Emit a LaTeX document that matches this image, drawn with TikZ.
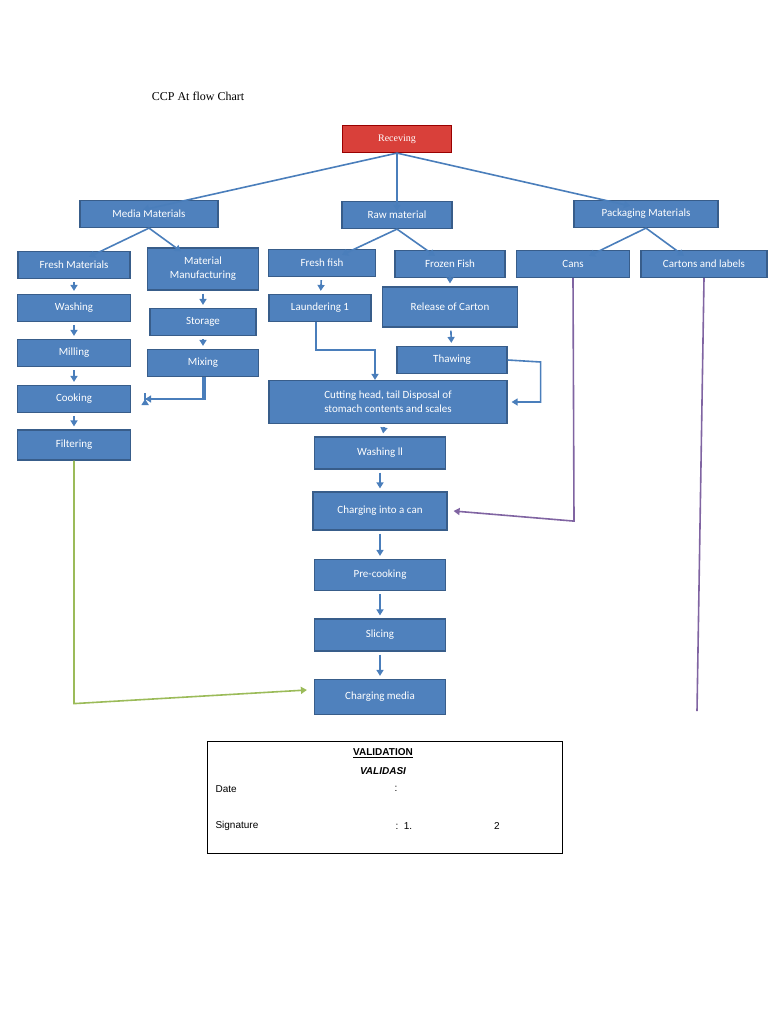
\documentclass[tikz,border=0pt]{standalone}
\usepackage{fontspec}
\setmainfont{Carlito}
\newfontfamily\arialf{Liberation Sans}
\newfontfamily\timesf{Liberation Serif}
\usetikzlibrary{arrows.meta, positioning, calc}
\definecolor{boxblue}{HTML}{4F81BD}
\definecolor{boxedge}{HTML}{385D8A}
\definecolor{arrblue}{HTML}{4A7EBB}
\definecolor{recred}{HTML}{D9403A}
\definecolor{purp}{HTML}{8064A2}
\definecolor{grn}{HTML}{9BBB59}
\begin{document}
\begin{tikzpicture}[
    x=1pt, y=-1pt,
    >={Triangle[length=6pt,width=7pt]},
    box/.style={rectangle, draw=boxedge, fill=boxblue, line width=1.2pt, text=white, align=center,
      font=\fontsize{11}{14}\selectfont, inner sep=2pt, minimum height=27pt},
    flow/.style={->, draw=arrblue, line width=1.6pt},
    link/.style={line width=1.6pt}
  ]
    \useasboundingbox (0,0) rectangle (768,1024);
    \node[font=\timesf\fontsize{12}{14}\selectfont] (title) at (198,96) {CCP At flow Chart};
    % top level
    \node[box, fill=recred, draw=red!60!black, text=white, font=\timesf\fontsize{10}{12}\selectfont, minimum width=109pt] (rec) at (397,139) {Receving};
    \node[box, minimum width=138pt] (media) at (149,214) {Media Materials};
    \node[box, minimum width=110pt] (raw) at (397,215) {Raw material};
    \node[box, minimum width=144pt] (pack) at (646,214) {Packaging Materials};
    % second level
    \node[box, minimum width=112pt] (fresh) at (74,265) {Fresh Materials};
    \node[box, minimum width=111pt, minimum height=42pt] (manuf) at (203,269) {Material\\Manufacturing};
    \node[box, minimum width=107pt] (fish) at (322,263) {Fresh fish};
    \node[box, minimum width=110pt] (frozen) at (450,264) {Frozen Fish};
    \node[box, minimum width=113pt] (cans) at (573,264) {Cans};
    \node[box, minimum width=126pt] (carton) at (704,264) {Cartons and labels};
    % media chain
    \node[box, minimum width=113pt] (wash) at (74,308) {Washing};
    \node[box, minimum width=113pt] (mill) at (74,353) {Milling};
    \node[box, minimum width=113pt] (cook) at (74,399) {Cooking};
    \node[box, minimum width=113pt, minimum height=30pt] (filter) at (74,445) {Filtering};
    \node[box, minimum width=106pt] (store) at (203,322) {Storage};
    \node[box, minimum width=111pt] (mix) at (203,363) {Mixing};
    % fish chain
    \node[box, minimum width=102pt] (laund) at (320,308) {Laundering 1};
    \node[box, minimum width=135pt, minimum height=40pt] (release) at (450,307) {Release of Carton};
    \node[box, minimum width=110pt] (thaw) at (452,360) {Thawing};
    \node[box, minimum width=238pt, minimum height=43pt] (cut) at (388,402) {Cutting head, tail Disposal of\\stomach contents and scales};
    \node[box, minimum width=131pt, minimum height=32pt] (wash2) at (380,453) {Washing ll};
    \node[box, minimum width=134pt, minimum height=38pt] (charge) at (380,511) {Charging into a can};
    \node[box, minimum width=131pt, minimum height=31pt] (pre) at (380,575) {Pre-cooking};
    \node[box, minimum width=131pt, minimum height=32pt] (slice) at (380,635) {Slicing};
    \node[box, minimum width=131pt, minimum height=35pt] (cmedia) at (380,697) {Charging media};
    % connectors
    \draw[flow] (rec.south) -- ([xshift=-6pt,yshift=-10pt]media.north);
    \draw[flow] (rec.south) -- ([yshift=-10pt]raw.north);
    \draw[flow] (rec.south) -- ([xshift=-16pt,yshift=-6pt]pack.north);
    \draw[flow] (media.south) -- ([xshift=15pt,yshift=-6pt]fresh.north);
    \draw[flow] (media.south) -- ([xshift=-22pt,yshift=-4pt]manuf.north);
    \draw[flow] (raw.south) -- ([xshift=20pt,yshift=-6pt]fish.north);
    \draw[flow] (raw.south) -- ([xshift=-15pt,yshift=-6pt]frozen.north);
    \draw[flow] (pack.south) -- ([xshift=16pt,yshift=-6pt]cans.north);
    \draw[flow] (pack.south) -- ([xshift=-20pt,yshift=-6pt]carton.north);
    \foreach \a/\b in {fresh/wash, wash/mill, mill/cook, cook/filter, manuf/store, store/mix,
      fish/laund, frozen/release, release/thaw, cut/wash2, wash2/charge, charge/pre, pre/slice, slice/cmedia}
      \draw[flow, shorten <=3pt, shorten >=3pt] (\a) -- (\b);
    \draw[flow] (mix.south) -- ++(0,22) -| ([xshift=14pt]cook.east) -- ([xshift=14pt]cook.east);
    \draw[flow] ([xshift=2pt]mix.south) |- ([xshift=14pt]cook.east);
    \draw[flow] ([xshift=-4pt]laund.south) -- ++(0,28) -| ([xshift=-13pt]cut.north);
    \draw[flow] (thaw.east) -- ++(33,2) |- ([xshift=4pt]cut.east);
    \draw[link, draw=purp, ->] (cans.south) -- ++(1,243) -- ([xshift=6pt]charge.east);
    \draw[link, draw=purp] (carton.south) -- ++(-7,433);
    \draw[link, draw=grn, ->] (filter.south) -- ++(0,243) -- ([xshift=-7pt,yshift=7pt]cmedia.west);
    % validation box
    \draw[line width=0.8pt] (207,741) rectangle (562,853);
    \begin{scope}[every node/.style={font=\arialf\fontsize{10}{12}\selectfont}]
      \node[font=\arialf\bfseries\fontsize{10}{12}\selectfont] (val) at (383,753) {\underline{VALIDATION}};
      \node[font=\arialf\bfseries\itshape\fontsize{10}{12}\selectfont] (valid) at (383,771) {VALIDASI};
      \node[anchor=west] (date) at (212,789) {Date};
      \node (dcol) at (396,789) {:};
      \node[anchor=west] (sig) at (212,826) {Signature};
      \node[anchor=west] (one) at (392,826) {:\ \ 1.};
      \node (two) at (497,826) {2};
    \end{scope}
\end{tikzpicture}
\end{document}
